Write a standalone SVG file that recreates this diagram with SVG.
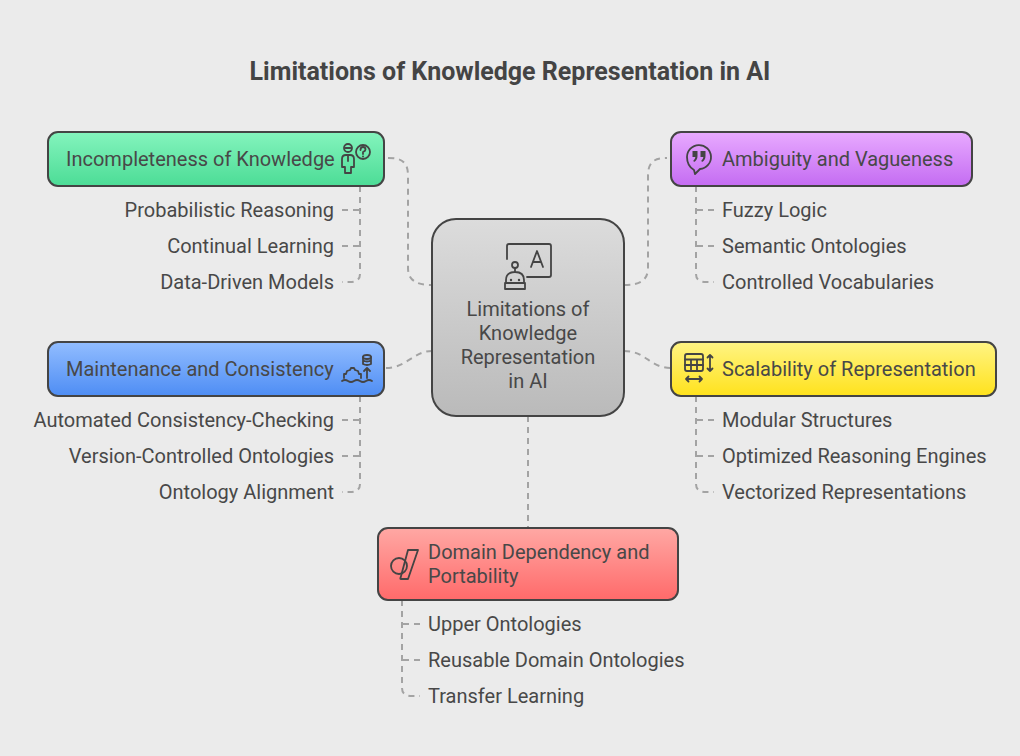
<svg xmlns="http://www.w3.org/2000/svg" width="1020" height="756" viewBox="0 0 1020 756">
<defs>
<linearGradient id="gGrey" x1="0" y1="0" x2="0" y2="1"><stop offset="0" stop-color="#dcdcdc"/><stop offset="1" stop-color="#bababa"/></linearGradient>
<linearGradient id="gGreen" x1="0" y1="0" x2="0" y2="1"><stop offset="0" stop-color="#84f4bd"/><stop offset="1" stop-color="#4cdc96"/></linearGradient>
<linearGradient id="gPurple" x1="0" y1="0" x2="0" y2="1"><stop offset="0" stop-color="#e8aaff"/><stop offset="1" stop-color="#c46cf2"/></linearGradient>
<linearGradient id="gBlue" x1="0" y1="0" x2="0" y2="1"><stop offset="0" stop-color="#92bdff"/><stop offset="1" stop-color="#4e8df4"/></linearGradient>
<linearGradient id="gYellow" x1="0" y1="0" x2="0" y2="1"><stop offset="0" stop-color="#fff484"/><stop offset="1" stop-color="#ffe21c"/></linearGradient>
<linearGradient id="gRed" x1="0" y1="0" x2="0" y2="1"><stop offset="0" stop-color="#ffa8a4"/><stop offset="1" stop-color="#ff6a6a"/></linearGradient>
</defs>
<style>
text{font-family:Roboto,"Liberation Sans",sans-serif;fill:#484848;font-size:20px}
.title{font-size:25px;font-weight:bold;fill:#444}
.box{stroke:#444;stroke-width:2}
.conn{fill:none;stroke:#a3a3a3;stroke-width:2;stroke-dasharray:6 5}
.ic{fill:none;stroke:#444;stroke-width:1.8;stroke-linecap:round;stroke-linejoin:round}
.r{text-anchor:end}
.c{text-anchor:middle}
</style>
<rect width="1020" height="756" fill="#ebebeb"/>
<text class="title c" x="510" y="80">Limitations of Knowledge Representation in AI</text>

<g id="connectors">
<path class="conn" d="M388,158 C402,158 408,162 408,176 V268 C408,280 416,285 432,285"/>
<path class="conn" d="M624,285 C640,285 648,280 648,268 V176 C648,162 654,158 667,158"/>
<path class="conn" d="M386,368 C406,368 414,351 432,351"/>
<path class="conn" d="M624,351 C646,351 650,368 671,368"/>
<path class="conn" d="M528,416 V528"/>
<path class="conn" d="M360,186 V274 Q360,282 350,282 H342 M342,210 H360 M342,246 H360"/>
<path class="conn" d="M360,396 V484 Q360,492 350,492 H342 M342,420 H360 M342,456 H360"/>
<path class="conn" d="M696,186 V274 Q696,282 706,282 H714 M714,210 H696 M714,246 H696"/>
<path class="conn" d="M696,396 V484 Q696,492 706,492 H714 M714,420 H696 M714,456 H696"/>
<path class="conn" d="M402,600 V688 Q402,696 412,696 H420 M420,624 H402 M420,660 H402"/>
</g>

<g id="center">
<rect class="box" x="432" y="219" width="192" height="197" rx="24" fill="url(#gGrey)"/>
<path class="ic" d="M507,259 V246 Q507,244 509,244 H549 Q551,244 551,246 V275 Q551,277 549,277 H527"/>
<path class="ic" d="M531,267 L537,251 L543,267 M533,262 H541"/>
<circle class="ic" cx="515" cy="265" r="3"/>
<path class="ic" d="M515,268 V272 M506,283 V280 Q506,272 515,272 Q524,272 524,280 V283 M505,283 H525 V289 H505 Z"/>
<circle cx="511" cy="280" r="1.2" fill="#444"/><circle cx="519" cy="280" r="1.2" fill="#444"/>
<text class="c" x="528" y="316">Limitations of</text>
<text class="c" x="528" y="340">Knowledge</text>
<text class="c" x="528" y="364">Representation</text>
<text class="c" x="528" y="388">in AI</text>
</g>

<g id="incompleteness">
<rect class="box" x="48" y="132" width="336" height="54" rx="10" fill="url(#gGreen)"/>
<text x="66" y="166">Incompleteness of Knowledge</text>
<circle class="ic" cx="348" cy="148" r="4"/>
<path class="ic" d="M345.5,148 H350.5 M342,167 V159 Q342,155 346,155 H350 Q354,155 354,159 V167 H351 V173 H345 V167 Z M348,156 V161"/>
<circle class="ic" cx="363" cy="152" r="7"/>
<path class="ic" d="M360.5,150 Q360.5,147 363,147 Q365.5,147 365.5,149.5 Q365.5,151 363,152 V154"/>
<circle cx="363" cy="156.5" r="1" fill="#444"/>
<text class="r" x="334" y="217">Probabilistic Reasoning</text>
<text class="r" x="334" y="253">Continual Learning</text>
<text class="r" x="334" y="289">Data-Driven Models</text>
</g>

<g id="ambiguity">
<rect class="box" x="671" y="132" width="301" height="54" rx="10" fill="url(#gPurple)"/>
<path class="ic" d="M694,170 Q687,166 687,157 A12,12 0 1 1 700,169 L695,174 Z"/>
<path fill="#444" d="M692.5,151 H697.5 V156 Q697.5,160 694,162 L693.3,160.8 Q695,159.5 695.4,157 H692.5 Z M700.5,151 H705.5 V156 Q705.5,160 702,162 L701.3,160.8 Q703,159.5 703.4,157 H700.5 Z"/>
<text x="722" y="166">Ambiguity and Vagueness</text>
<text x="722" y="217">Fuzzy Logic</text>
<text x="722" y="253">Semantic Ontologies</text>
<text x="722" y="289">Controlled Vocabularies</text>
</g>

<g id="maintenance">
<rect class="box" x="48" y="342" width="336" height="54" rx="10" fill="url(#gBlue)"/>
<text x="66" y="376">Maintenance and Consistency</text>
<ellipse class="ic" cx="367" cy="357" rx="4" ry="2"/>
<path class="ic" d="M363,357 V364 Q367,366 371,364 V357 M363,360.5 Q367,362.5 371,360.5 M367,368 V378 M364,371 L367,368 L370,371"/>
<path class="ic" d="M344,378 V374 L346,374 L347,371 L350,370 L351,368 L354,368 L355,370 L358,371 L359,374 L361,374 V378"/>
<path class="ic" d="M342,381 Q345,379 348,381 Q351,383 354,381 Q357,379 360,381 Q363,383 366,381 Q369,379 372,381"/>
<text class="r" x="334" y="427">Automated Consistency-Checking</text>
<text class="r" x="334" y="463">Version-Controlled Ontologies</text>
<text class="r" x="334" y="499">Ontology Alignment</text>
</g>

<g id="scalability">
<rect class="box" x="671" y="342" width="325" height="54" rx="10" fill="url(#gYellow)"/>
<rect class="ic" x="685" y="354" width="18" height="17" rx="2"/>
<path class="ic" d="M685,359.5 H703 M685,365 H703 M691,359.5 V371 M697,359.5 V371 M710,355 V371 M707.5,357.5 L710,355 L712.5,357.5 M707.5,368.5 L710,371 L712.5,368.5 M686,379 H702 M688.5,376.5 L686,379 L688.5,381.5 M699.5,376.5 L702,379 L699.5,381.5"/>
<text x="722" y="376">Scalability of Representation</text>
<text x="722" y="427">Modular Structures</text>
<text x="722" y="463">Optimized Reasoning Engines</text>
<text x="722" y="499">Vectorized Representations</text>
</g>

<g id="domain">
<rect class="box" x="378" y="528" width="300" height="72" rx="10" fill="url(#gRed)"/>
<circle class="ic" cx="399" cy="566" r="8"/>
<path class="ic" d="M408,550 H418 L408,579 H401 Q400,579 400.5,578 Z"/>
<text x="428" y="559">Domain Dependency and</text>
<text x="428" y="583">Portability</text>
<text x="428" y="631">Upper Ontologies</text>
<text x="428" y="667">Reusable Domain Ontologies</text>
<text x="428" y="703">Transfer Learning</text>
</g>
</svg>
